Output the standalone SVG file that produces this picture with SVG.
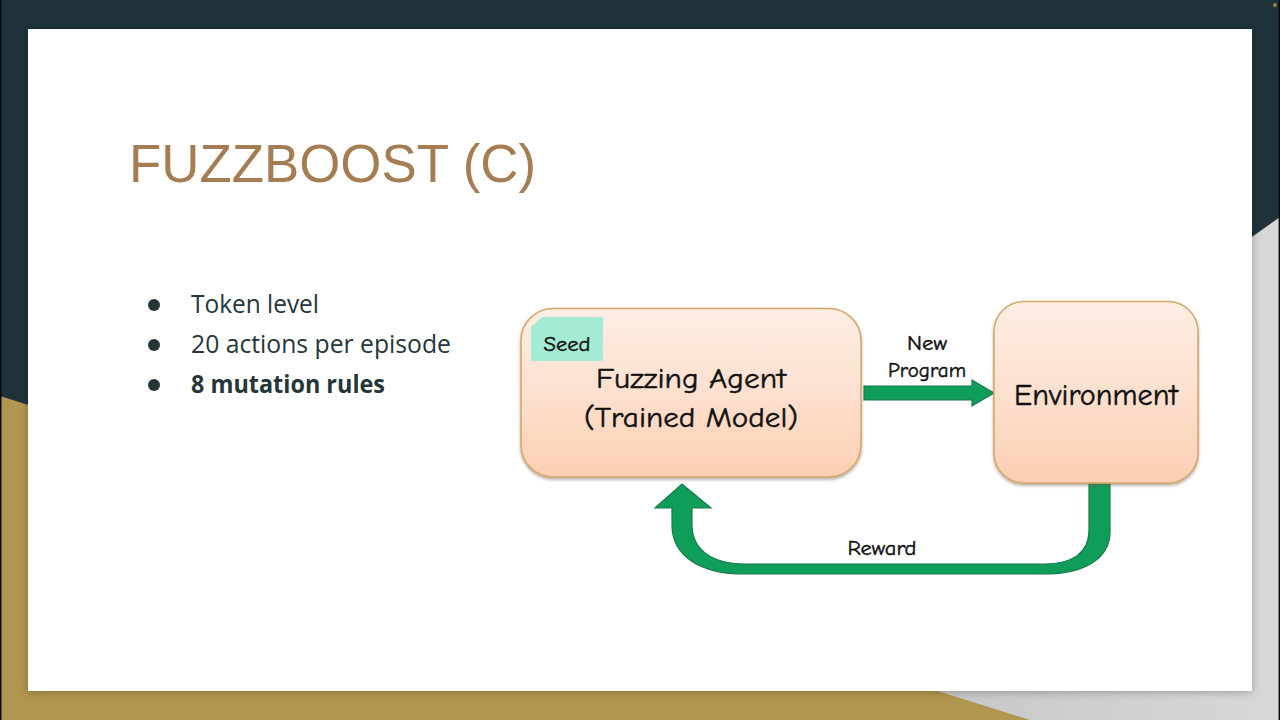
<svg xmlns="http://www.w3.org/2000/svg" width="1280" height="720" viewBox="0 0 1280 720">
<style>
.hand{font-family:"Comic Sans MS","Comic Neue","DejaVu Sans",sans-serif;fill:#111;stroke:#111;stroke-width:.45}
.bullet{font-family:"Open Sans","Noto Sans",sans-serif;font-size:24.600px;fill:#25363b}
.box{fill:url(#peach);stroke:#d9a86c;stroke-width:1.6;filter:url(#sh)}
.conn{fill:#0f9d5a;stroke:#197a4c;stroke-width:1.2}
</style>
<defs>
<linearGradient id="peach" x1="0" y1="0" x2="0" y2="1"><stop offset="0" stop-color="#fdeee4"/><stop offset="0.5" stop-color="#fde0cf"/><stop offset="1" stop-color="#fbcfb2"/></linearGradient>
<linearGradient id="grayg" x1="0" y1="0" x2="1" y2="0"><stop offset="0" stop-color="#c4c4c4"/><stop offset="1" stop-color="#d8d8d8"/></linearGradient>
<filter id="sh" x="-5%" y="-5%" width="110%" height="112%"><feDropShadow dx="0" dy="2" stdDeviation="1.5" flood-color="#6b5a48" flood-opacity="0.5"/></filter>
<filter id="slideSh" x="-3%" y="-3%" width="106%" height="106%"><feDropShadow dx="0" dy="1" stdDeviation="4" flood-color="#000" flood-opacity="0.28"/></filter>
</defs>
<g id="background">
<rect width="1280" height="720" fill="#1f3239"/>
<polygon points="1280,217 1280,720 880,720 880,500" fill="url(#grayg)"/>
<polygon points="0,396 1030,720 0,720" fill="#b1964f"/>
<rect x="0" y="0" width="1.5" height="720" fill="#0a0a0a"/>
<rect x="1278.600" y="0" width="1.400" height="720" fill="#0a0a0a"/>
<circle cx="1275" cy="5" r="2" fill="#a07c4a"/>
</g>
<rect id="slide" x="28" y="29" width="1224" height="662" fill="#fff" filter="url(#slideSh)"/>
<text id="title" x="129" y="182" font-family="'Liberation Sans',Arial,sans-serif" font-size="54" fill="#a67c52" textLength="407" lengthAdjust="spacingAndGlyphs">FUZZBOOST (C)</text>
<g id="bullets">
<circle cx="154" cy="305" r="6" fill="#25363b"/><text class="bullet" x="191" y="313" textLength="128" lengthAdjust="spacingAndGlyphs">Token level</text>
<circle cx="154" cy="345" r="6" fill="#25363b"/><text class="bullet" x="191" y="353" textLength="260" lengthAdjust="spacingAndGlyphs">20 actions per episode</text>
<circle cx="154" cy="385" r="6" fill="#25363b"/><text class="bullet" x="191" y="393" font-weight="700" textLength="194" lengthAdjust="spacingAndGlyphs">8 mutation rules</text>
</g>
<g id="connectors">
<path class="conn" d="M864 386H972V380L994 393L972 406V400H864Z"/>
<path class="conn" d="M1110 483V532C1110 558 1085 574 1045 574H745C700 574 672 556 672 525V508H655L682 484L711 508H692V525C692 548 710 564 745 564H1045C1072 564 1089 553 1089 530V483Z"/>
</g>
<g id="agent">
<rect class="box" x="521" y="308.500" width="340" height="168.500" rx="32"/>
<path id="seed-tag" d="M531 327L542 317H603V361H531Z" fill="#a3ecd3"/>
<text class="hand" x="567" y="351" font-size="20" text-anchor="middle" textLength="47" lengthAdjust="spacingAndGlyphs">Seed</text>
<text class="hand" x="691" y="388" font-size="28" text-anchor="middle" textLength="190" lengthAdjust="spacingAndGlyphs">Fuzzing Agent</text>
<text class="hand" x="691" y="427" font-size="28" text-anchor="middle" textLength="214" lengthAdjust="spacingAndGlyphs">(Trained Model)</text>
</g>
<g id="environment">
<rect class="box" x="994" y="301.500" width="204" height="181.500" rx="30"/>
<text class="hand" x="1096" y="405" font-size="30" text-anchor="middle" textLength="164" lengthAdjust="spacingAndGlyphs">Environment</text>
</g>
<g id="labels">
<text class="hand" x="927" y="350" font-size="20" text-anchor="middle" textLength="40" lengthAdjust="spacingAndGlyphs">New</text>
<text class="hand" x="927" y="377" font-size="20" text-anchor="middle" textLength="78" lengthAdjust="spacingAndGlyphs">Program</text>
<text class="hand" x="882" y="555" font-size="20" text-anchor="middle" textLength="69" lengthAdjust="spacingAndGlyphs">Reward</text>
</g>
</svg>
